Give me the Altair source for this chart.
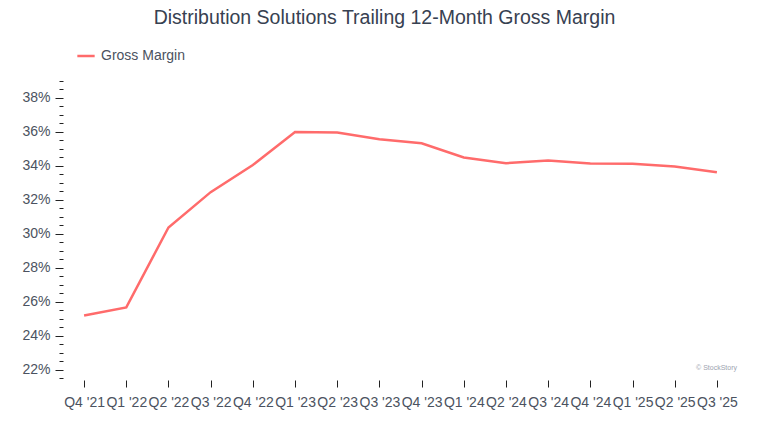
import altair as alt
import pandas as pd

quarters = ["Q4 '21", "Q1 '22", "Q2 '22", "Q3 '22", "Q4 '22", "Q1 '23", "Q2 '23", "Q3 '23",
            "Q4 '23", "Q1 '24", "Q2 '24", "Q3 '24", "Q4 '24", "Q1 '25", "Q2 '25", "Q3 '25"]
gross_margin = [25.18, 25.66, 30.37, 32.45, 34.05, 36.0, 35.96, 35.57,
                35.33, 34.49, 34.16, 34.31, 34.14, 34.12, 33.96, 33.63]
series_name = "Gross Margin"
y_ticks = [21.5 + 0.5 * i for i in range(36)]

df = pd.DataFrame({"quarter": quarters, "value": gross_margin, "series": series_name})

FONT = "Liberation Sans"
LABEL = "#4b5260"

line = alt.Chart(df).mark_line(strokeWidth=2.5).encode(
    x=alt.X("quarter:O", sort=quarters,
            scale=alt.Scale(type="point", padding=0.5),
            axis=alt.Axis(title=None, labelAngle=0, domain=False, grid=False,
                          tickSize=7, tickColor="#222", tickWidth=1, offset=2,
                          labelPadding=8, labelFontSize=14, labelColor=LABEL,
                          labelFont=FONT)),
    y=alt.Y("value:Q",
            scale=alt.Scale(domain=[21.5, 39], nice=False, zero=False),
            axis=alt.Axis(title=None, values=y_ticks, domain=False, grid=False,
                          tickColor="#222", tickWidth=1,
                          tickSize={"condition": {"test": "datum.value % 2 === 0", "value": 8}, "value": 4},
                          labelExpr="datum.value % 2 === 0 ? datum.value + '%' : ''",
                          labelPadding=5, labelFontSize=14, labelColor=LABEL,
                          labelFont=FONT)),
    color=alt.Color("series:N",
                    scale=alt.Scale(range=["#ff6b6b"]),
                    legend=alt.Legend(title=None, orient="none", legendX=13, legendY=-35,
                                      symbolType="stroke", symbolSize=300, symbolStrokeWidth=2.5,
                                      labelFontSize=14, labelColor=LABEL, labelFont=FONT,
                                      labelOffset=5)),
)

wm = alt.Chart(pd.DataFrame({"t": ["© StockStory"]})).mark_text(
    align="right", baseline="middle", fontSize=7, color="#9ca3af", font=FONT
).encode(text="t:N", x=alt.value(674), y=alt.value(287))

chart = alt.layer(line, wm).properties(
    width=675, height=297,
    autosize=alt.AutoSizeParams(type="none"),
    padding={"left": 55, "top": 73, "right": 22, "bottom": 40},
    title=alt.TitleParams("Distribution Solutions Trailing 12-Month Gross Margin",
                          fontSize=19.5, font=FONT, color="#374151", fontWeight="normal",
                          anchor="middle", dx=-16, offset=18),
).configure_view(stroke=None)

chart.save("out.html", embed_options={"renderer": "svg", "actions": False})
